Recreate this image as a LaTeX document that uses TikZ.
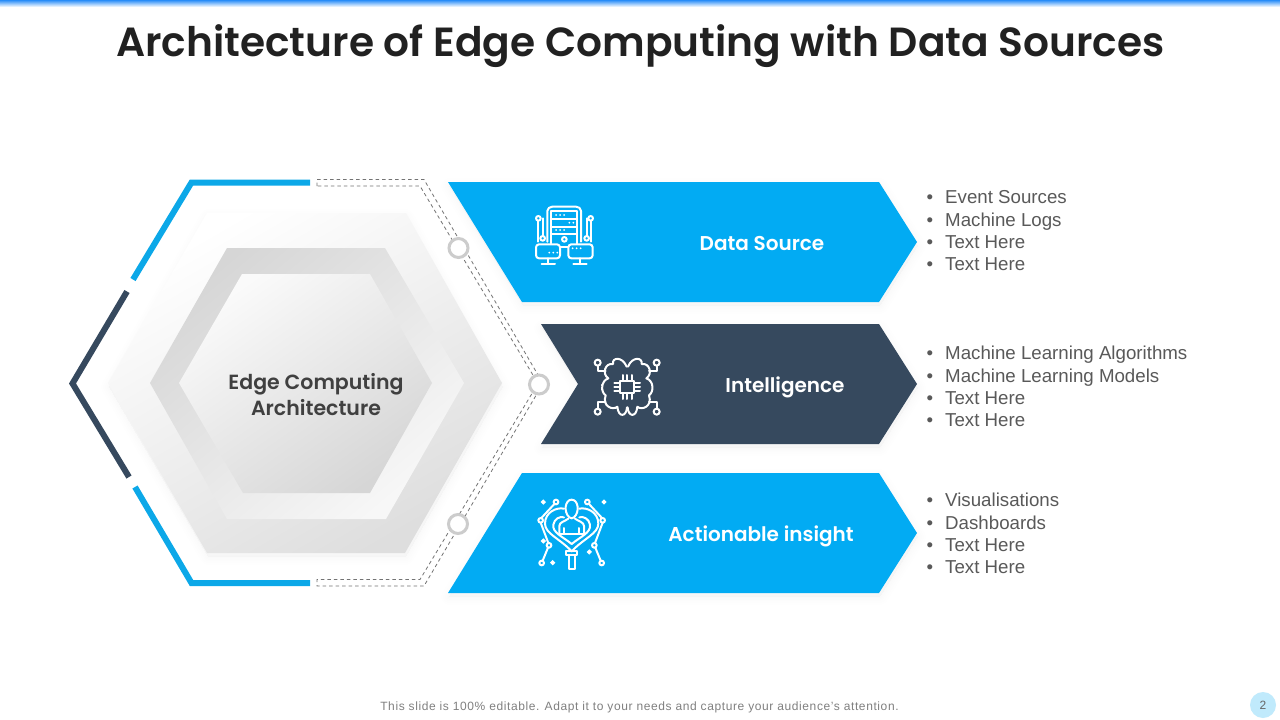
\documentclass[tikz,border=0pt]{standalone}
\usepackage{fontspec}
\setmainfont{Liberation Sans}
\newfontfamily\headfont{Poppins SemiBold}
\usetikzlibrary{calc}
\definecolor{cblue}{HTML}{02ABF3}
\definecolor{cframe}{HTML}{0CA8E8}
\definecolor{cnavy}{HTML}{36495E}
\definecolor{cbody}{HTML}{595959}
\tikzset{
  x=1pt,y=-1pt,
  blueband/.style={fill=cblue},
  navyband/.style={fill=cnavy},
  framebar/.style={line width=6pt,miter limit=10},
  dashline/.style={draw=black!55,line width=.8pt,dash pattern=on 3.5pt off 3pt},
  knob/.style={circle,draw=black!20,line width=3pt,fill=white,minimum size=19pt,inner sep=0pt},
  bandlabel/.style={font=\headfont\fontsize{20}{24}\selectfont,text=white,inner sep=0pt,anchor=base},
  bulletlist/.style={font=\fontsize{18.7}{22}\selectfont,text=cbody,anchor=base west,inner sep=0pt},
  bulletdot/.style={font=\fontsize{18.7}{22}\selectfont,text=cbody,inner sep=0pt,anchor=base},
  icon/.style={draw=white,line width=2pt,line cap=round,line join=round},
  icondot/.style={fill=white},
  zoomed/.style={shift={(#1)},scale=0.3333},
}
\newcommand{\softshadow}[1]{%
  \foreach \w in {16,12,8,5,2}{\draw[black,opacity=.004,line width=\w pt,fill=black,fill opacity=.004,line join=round,xshift=1pt,yshift=-4pt] #1;}}
\newcommand{\bulletrow}[3]{%
  \node[bulletdot] (#1d) at (930,#2+6.8) {•};
  \node[bulletlist] (#1) at (945,#2+6.8) {#3};}
\begin{document}
\begin{tikzpicture}
\useasboundingbox (0,0) rectangle (1280,720);
\fill[white] (0,0) rectangle (1280,720);
% top bar
\shade[top color=cblue!70!blue!85!white,bottom color=white] (0,0) rectangle (1280,7);
% title
\node[font=\headfont\fontsize{40.7}{50}\selectfont,text=black!87,inner sep=0pt,anchor=base] (title) at (640.5,56.5) {Architecture of Edge Computing with Data Sources};
% hexagons
\softshadow{(207,213)--(405,213)--(502,383)--(405,553)--(207,553)--(108,383)--cycle}
\shade[top color=white,bottom color=black!13,shading angle=30] (207,213)--(406,213)--(502,383)--(405,553)--(207,553)--(108,383)--cycle;
\shade[top color=black!16,bottom color=black!3,shading angle=40] (227,248)--(385,248)--(464,383)--(386,519)--(227,519)--(150,383)--cycle;
\shade[top color=black!2,bottom color=black!16,shading angle=35] (242,274)--(370,274)--(432,383)--(370,493)--(243,493)--(179,383)--cycle;
\node[font=\headfont\fontsize{20.5}{26}\selectfont,text=black!75,inner sep=0pt,anchor=base] (core1) at (316,389) {Edge Computing};
\node[font=\headfont\fontsize{20.5}{26}\selectfont,text=black!75,inner sep=0pt,anchor=base] (core2) at (316,415) {Architecture};
% frame
\draw[framebar,cframe] (310,182.5)--(191.5,182.5)--(133,279.5);
\draw[framebar,cnavy] (127,291.5)--(72.5,383.5)--(129,477);
\draw[framebar,cframe] (135,487)--(191.5,583)--(310,583);
% dashed outline
\draw[dashline] (317,186)--(317,179.5)--(424,179.5)--(543,383.5)--(424,586)--(317,586)--(317,579.5)--(420,579.5)--(538,383.5)--(420,186)--cycle;
% bands
\softshadow{(448,182)--(879,182)--(917,242)--(879,302)--(522,302)--cycle}
\softshadow{(541,324)--(879,324)--(917,384)--(879,444)--(541,444)--(578,384)--cycle}
\softshadow{(448,593)--(879,593)--(917,533)--(879,473)--(522,473)--cycle}
\fill[blueband] (448,182)--(879,182)--(917,242)--(879,302)--(522,302)--cycle;
\fill[navyband] (541,324)--(879,324)--(917,384)--(879,444)--(541,444)--(578,384)--cycle;
\fill[blueband] (448,593)--(879,593)--(917,533)--(879,473)--(522,473)--cycle;
% knobs
\node[knob] (k1) at (458.5,248) {};
\node[knob] (k2) at (539,384.5) {};
\node[knob] (k3) at (458,524) {};
% labels
\node[bandlabel] (l1) at (762,250) {Data Source};
\node[bandlabel] (l2) at (785,392) {Intelligence};
\node[bandlabel] (l3) at (761,541) {Actionable insight};
% bullets
\bulletrow{a1}{197}{Event Sources}
\bulletrow{a2}{219.5}{Machine Logs}
\bulletrow{a3}{241.5}{Text Here}
\bulletrow{a4}{263.5}{Text Here}
\bulletrow{b1}{353}{Machine Learning Algorithms}
\bulletrow{b2}{375.5}{Machine Learning Models}
\bulletrow{b3}{397.5}{Text Here}
\bulletrow{b4}{419.5}{Text Here}
\bulletrow{c1}{500}{Visualisations}
\bulletrow{c2}{522.5}{Dashboards}
\bulletrow{c3}{544.5}{Text Here}
\bulletrow{c4}{566.5}{Text Here}
% icon 1: servers
\begin{scope}[zoomed={520,195}]
\begin{scope}[icon]
\draw (82,140)--(82,48) .. controls (82,40) and (90,35) .. (97,35)--(168,35) .. controls (176,35) and (183,40) .. (183,48)--(183,140);
\draw (92,48) rectangle (172,71) (92,71) rectangle (172,95) (92,95) rectangle (172,118) (92,118)--(92,145) (172,118)--(172,145);
\draw[rounded corners=3pt] (48,148) rectangle (120,190) (145,148) rectangle (218,190);
\draw (85,190)--(85,205) (65,207)--(105,207) (180,190)--(180,205) (160,207)--(200,207) (120,156)--(145,156);
\draw (55,78)--(55,140) (68,70)--(68,122) (212,78)--(212,140) (200,70)--(200,122);
\draw (55,70) circle (7) (68,130) circle (7) (212,70) circle (7) (200,130) circle (7) (133,133) circle (7);
\end{scope}
\foreach \p in {(108,60),(120,60),(132,60),(148,83),(160,83),(108,105),(120,105),(132,105),(88,173),(100,173),(112,173),(158,160),(170,160),(182,160)}{\fill[icondot] \p circle (3);}
\end{scope}
% icon 2: brain and chip
\begin{scope}[zoomed={585,350},icon]
\draw (105,92) rectangle (148,130);
\draw (113,92)--(113,75) (127,92)--(127,75) (141,92)--(141,75) (113,130)--(113,147) (127,130)--(127,147) (141,130)--(141,147);
\draw (105,98)--(88,98) (105,111)--(88,111) (105,124)--(88,124) (148,98)--(165,98) (148,111)--(165,111) (148,124)--(165,124);
\draw (125,50) .. controls (112,18) and (80,22) .. (84,42) .. controls (60,38) and (50,72) .. (70,85) .. controls (48,92) and (46,125) .. (62,136) .. controls (50,170) and (85,182) .. (97,170) .. controls (100,205) and (125,200) .. (126,172);
\draw (129,50) .. controls (142,18) and (174,22) .. (170,42) .. controls (194,38) and (204,72) .. (184,85) .. controls (206,92) and (208,125) .. (192,136) .. controls (204,170) and (169,182) .. (157,170) .. controls (154,205) and (129,200) .. (128,172);
\draw (38,38) circle (9) (215,38) circle (9) (38,185) circle (9) (215,185) circle (9);
\draw (38,47)--(38,62)--(62,62) (215,47)--(215,62)--(192,62) (38,176)--(38,155)--(62,155) (215,176)--(215,155)--(192,155);
\draw (50,105)--(50,106) (50,118)--(50,119);
\end{scope}
% icon 3: heart with person
\begin{scope}[zoomed={530,492}]
\begin{scope}[icon]
\draw (125,178) .. controls (90,140) and (45,125) .. (45,95) .. controls (45,60) and (80,45) .. (102,50);
\draw (125,178) .. controls (160,140) and (205,125) .. (205,95) .. controls (205,60) and (170,45) .. (148,50);
\draw (125,156) .. controls (100,135) and (66,122) .. (70,98) .. controls (73,80) and (90,72) .. (102,76);
\draw (125,156) .. controls (150,135) and (184,122) .. (180,98) .. controls (177,80) and (160,72) .. (148,76);
\draw (88,125)--(88,102) .. controls (88,90) and (105,88) .. (115,80) (162,125)--(162,102) .. controls (162,90) and (145,88) .. (135,80);
\draw (88,125)--(162,125) (102,108)--(102,125) (148,108)--(148,125);
\draw (118,76) .. controls (100,60) and (105,23) .. (125,23) .. controls (145,23) and (150,60) .. (132,76) .. controls (128,80) and (122,80) .. (118,76);
\draw (108,178) rectangle (142,190) (116,190) rectangle (134,232);
\draw (73,36)--(34,78) (32,92)--(55,153) (54,167)--(38,206);
\draw (177,36)--(216,78) (218,92)--(195,153) (196,167)--(212,206);
\draw (78,30) circle (7) (172,30) circle (7) (32,85) circle (7) (218,85) circle (7) (57,160) circle (7) (193,160) circle (7) (35,213) circle (7) (215,213) circle (7);
\end{scope}
\foreach \p in {(40,30),(222,30),(40,147),(178,180),(68,212)}{\fill[icondot] \p ++(-8,0)--++(8,-8)--++(8,8)--++(-8,8)--cycle;}
\end{scope}
% footer
\node[font=\fontsize{12}{14}\selectfont,text=black!50,inner sep=0pt,anchor=base] (foot) at (639.5,710) {\addfontfeature{LetterSpace=5}This slide is 100\% editable. Adapt it to your needs and capture your audience's attention.};
\node[circle,fill=cblue!25,minimum size=26pt,inner sep=0pt,text=black!60,font=\fontsize{12}{14}\selectfont] (pg) at (1263,705) {2};
\end{tikzpicture}
\end{document}
